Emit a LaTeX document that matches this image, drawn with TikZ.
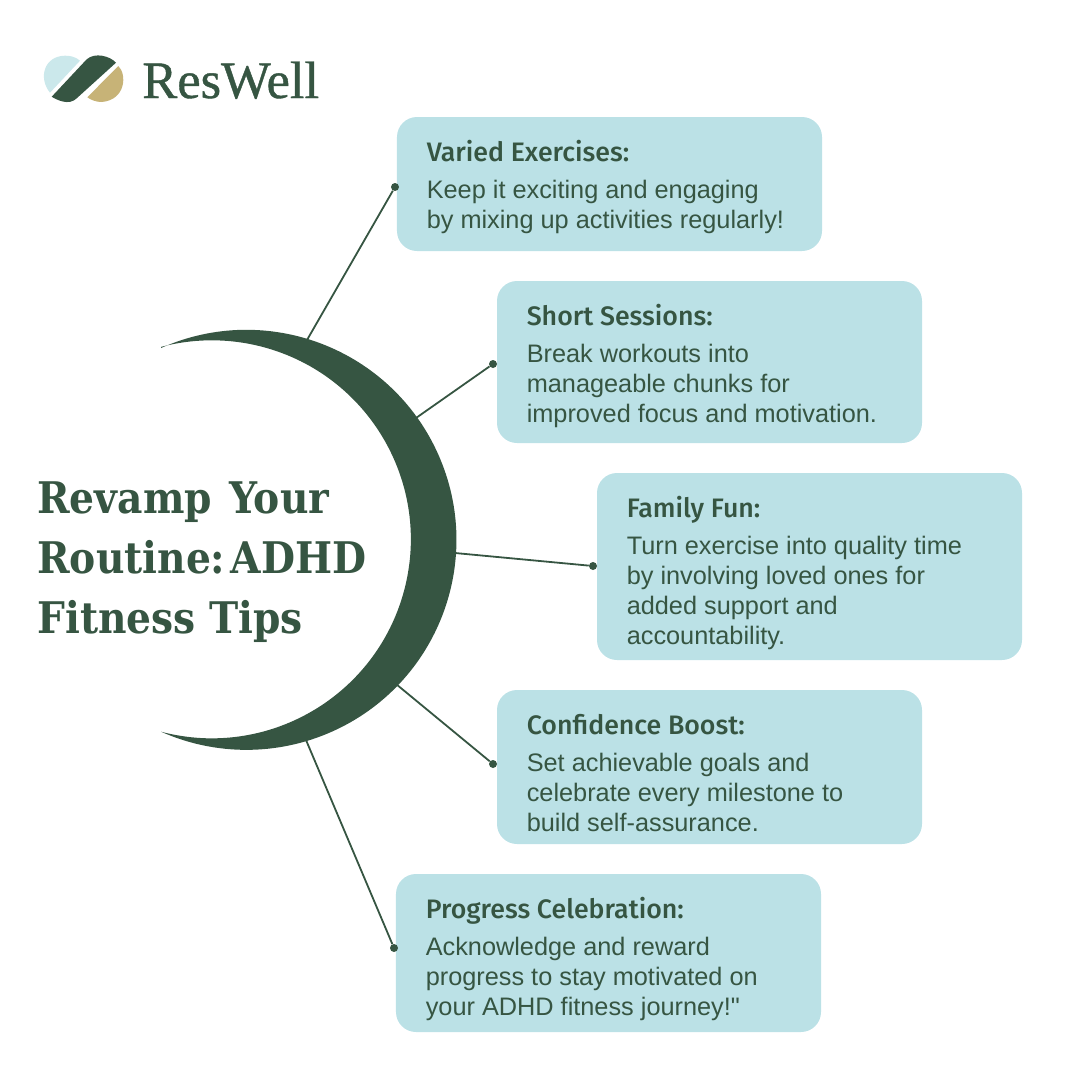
\documentclass[tikz,border=0pt]{standalone}
\usepackage{fontspec}
\setmainfont[Ligatures=TeXOff]{Liberation Sans}
\newfontfamily\headfont{Fira Sans Medium}
\newfontfamily\titlefont{DejaVu Serif Condensed}
\newfontfamily\brandfont[FakeBold=0.8]{Liberation Serif}
\usetikzlibrary{positioning}
\definecolor{resgreen}{HTML}{365542}
\definecolor{tipblue}{HTML}{BBE1E6}
\definecolor{logoblue}{HTML}{CBE8EB}
\definecolor{logogold}{HTML}{C7B377}
\tikzset{
  tipbox/.style={fill=tipblue, rounded corners=5mm, minimum width=106.25mm, inner sep=0},
  tiphead/.style={anchor=base west, inner sep=0, text=resgreen, font=\headfont\fontsize{19}{19}\selectfont},
  tipbody/.style={anchor=north west, inner sep=0, align=left, text=resgreen, font=\fontsize{18}{21.33}\selectfont, execute at begin node=\strut},
  tipdot/.style={circle, fill=resgreen, minimum size=2mm, inner sep=0},
  tipline/.style={resgreen, line width=.45mm},
  titleline/.style={anchor=base west, inner sep=0, text=resgreen, font=\titlefont\bfseries\fontsize{31}{31}\selectfont},
}
\begin{document}
\begin{tikzpicture}[x=.25mm, y=-.25mm]
\useasboundingbox (0,0) rectangle (1080,1080);
% logo
\fill[logoblue](50,92.7)..controls (38,78) and (44,56) .. (65,55.7)..controls (70,55.5) and (76,57) .. (80,60.7)--cycle;
\fill[resgreen](51.7,96.7)..controls (57,100) and (69,106) .. (76.7,98.3)--(116,62.7)..controls (110,56) and (95,52) .. (86.7,59.3)--cycle;
\fill[logogold](87.3,97.3)--(118.3,66)..controls (127,74) and (126,100) .. (101.7,102)..controls (96,102) and (91,100) .. (87.3,97.3)--cycle;
\node (brand) at (142,98)[anchor=base west, inner sep=0, text=resgreen, font=\brandfont\fontsize{37.4}{38}\selectfont]{ResWell};
% crescent
\fill[resgreen](161,348) arc[start angle=-114, end angle=114, radius=210]
  arc[start angle=104.8, end angle=-104.8, radius=199] -- cycle;
\node (title1) at (37,513)[titleline]{Revamp\hspace{3pt} Your};
\node (title2) at (37,573)[titleline]{Routine:\hspace{-9pt} ADHD};
\node (title3) at (37,633)[titleline]{Fitness Tips};
% tip boxes
\node (varied) at (609.5,184)[tipbox, minimum height=33.5mm]{};
\node (short) at (709.5,362)[tipbox, minimum height=40.5mm]{};
\node (family) at (809.5,566.5)[tipbox, minimum height=46.75mm]{};
\node (confidence) at (709.5,767)[tipbox, minimum height=38.5mm]{};
\node (progress) at (608.5,953)[tipbox, minimum height=39.5mm]{};
\node (variedhead) at (426.5,161.5)[tiphead]{Varied Exercises:};
\node (variedbody) at (426.5,179.5)[tipbody]{Keep it exciting and engaging\\by mixing up activities regularly!};
\node (shorthead) at (526.5,325.5)[tiphead]{Short Sessions:};
\node (shortbody) at (526.5,343.5)[tipbody]{Break workouts into\\manageable chunks for\\improved focus and motivation.};
\node (familyhead) at (626.5,517.5)[tiphead]{Family Fun:};
\node (familybody) at (626.5,535.5)[tipbody]{Turn exercise into quality time\\by involving loved ones for\\added support and\\accountability.};
\node (confidencehead) at (526.5,734.5)[tiphead]{Confidence Boost:};
\node (confidencebody) at (526.5,752.5)[tipbody]{Set achievable goals and\\celebrate every milestone to\\build self-assurance.};
\node (progresshead) at (425.5,918.5)[tiphead]{Progress Celebration:};
\node (progressbody) at (425.5,936.5)[tipbody]{Acknowledge and reward\\progress to stay motivated on\\your ADHD fitness journey!"};
% connectors
\coordinate (start1) at (307,340);
\coordinate (start2) at (416,418);
\coordinate (start3) at (455,553);
\coordinate (start4) at (396,684);
\coordinate (start5) at (306,740);
\node (dot1) at (395,187)[tipdot]{};
\node (dot2) at (493,364)[tipdot]{};
\node (dot3) at (593,566)[tipdot]{};
\node (dot4) at (493,764)[tipdot]{};
\node (dot5) at (394,948)[tipdot]{};
\draw[tipline](start1)--(dot1);
\draw[tipline](start2)--(dot2);
\draw[tipline](start3)--(dot3);
\draw[tipline](start4)--(dot4);
\draw[tipline](start5)--(dot5);
\end{tikzpicture}
\end{document}
